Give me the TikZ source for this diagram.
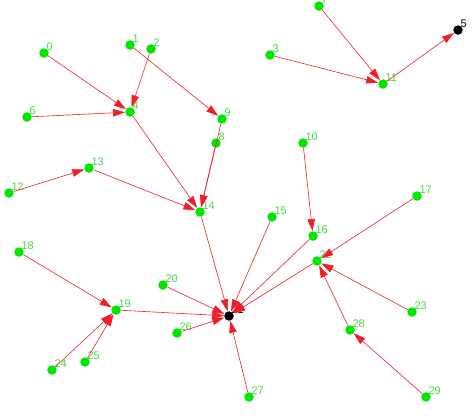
\documentclass[tikz,border=0pt]{standalone}
\usepackage{fontspec}
\setmainfont{Liberation Sans}
\usetikzlibrary{arrows.meta}
\definecolor{ngreen}{RGB}{0,230,0}
\definecolor{lgreen}{RGB}{70,215,70}
\definecolor{ered}{RGB}{240,30,40}
\begin{document}
\begin{tikzpicture}[x=1pt,y=-1pt,
  vtx/.style={circle,fill=ngreen,inner sep=0pt,minimum size=9.5pt,
    label={[lbl,text=lgreen]north east:#1}},
  root/.style={circle,fill=black,inner sep=0pt,minimum size=9.5pt,
    label={[lbl,text=black]north east:#1}},
  lbl/.style={font=\fontsize{11}{12}\selectfont,inner sep=0.3pt,label distance=-2pt},
  edge/.style={draw=ered,line width=0.6pt,-{Triangle[length=12pt,width=7.5pt]}}]
\useasboundingbox (0,0) rectangle (474,418);
\node[vtx=0] (n0) at (44,53) {};
\node[vtx=1] (n1) at (130,45) {};
\node[vtx=2] (n2) at (151,49) {};
\node[vtx=3] (n3) at (270,55) {};
\node[vtx=4] (n4) at (130,112) {};
\node[root=5] (n5) at (458,30) {};
\node[vtx=6] (n6) at (27,117) {};
\node[vtx=7] (n7) at (319,6) {};
\node[vtx=8] (n8) at (216,143) {};
\node[vtx=9] (n9) at (222,119) {};
\node[vtx=10] (n10) at (303,143) {};
\node[vtx=11] (n11) at (383,84) {};
\node[vtx=12] (n12) at (9,193) {};
\node[vtx=13] (n13) at (89,168) {};
\node[vtx=14] (n14) at (200,212) {};
\node[vtx=15] (n15) at (272,217) {};
\node[vtx=16] (n16) at (313,236) {};
\node[vtx=17] (n17) at (417,196) {};
\node[vtx=18] (n18) at (19,252) {};
\node[vtx=19] (n19) at (116,310) {};
\node[vtx=20] (n20) at (163,285) {};
\node[root=21] (n21) at (229,316) {};
\node[vtx=22] (n22) at (317,261) {};
\node[vtx=23] (n23) at (412,312) {};
\node[vtx=24] (n24) at (52,370) {};
\node[vtx=25] (n25) at (85,362) {};
\node[vtx=26] (n26) at (177,333) {};
\node[vtx=27] (n27) at (249,397) {};
\node[vtx=28] (n28) at (350,330) {};
\node[vtx=29] (n29) at (426,397) {};
\foreach \a/\b in {0/4,2/4,6/4,1/9,9/14,8/14,4/14,13/14,12/13,7/11,3/11,11/5,10/16,
  14/21,15/21,16/21,22/21,17/22,23/22,28/22,29/28,18/19,24/19,25/19,19/21,20/21,26/21,27/21}
  \draw[edge] (n\a) -- (n\b);
\end{tikzpicture}
\end{document}
